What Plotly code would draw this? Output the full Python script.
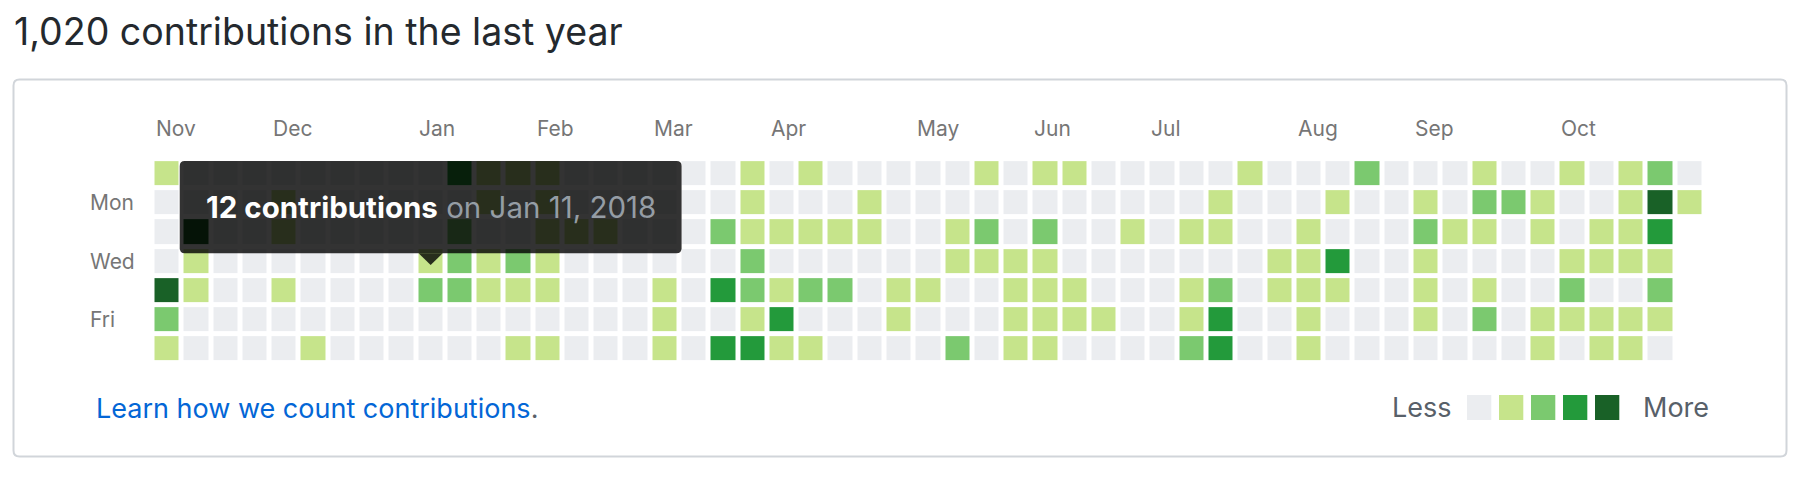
"""GitHub style contribution calendar rebuilt with a plotly heatmap."""

import plotly.graph_objects as go

# the page body keeps its default 8px margin, so the figure is a bit
# smaller than the window and every pixel position is shifted by it
PAGE_MARGIN = 8
W, H = 1800 - PAGE_MARGIN, 478 - PAGE_MARGIN

# contribution level per week (0 = none ... 4 = most), one list per weekday
sun = [1, 0, 0, 0, 0, 0, 0, 0, 0, 0, 3, 1, 1, 1, 0, 0, 0, 0, 0, 0,
       1, 0, 1, 0, 0, 0, 0, 0, 1, 0, 1, 1, 0, 0, 0, 0, 0, 1, 0, 0,
       0, 2, 0, 0, 0, 1, 0, 0, 1, 0, 1, 2, 0]
mon = [0, 0, 0, 0, 1, 0, 0, 0, 0, 0, 0, 1, 0, 1, 0, 0, 0, 0, 0, 0,
       1, 0, 0, 0, 1, 0, 0, 0, 0, 0, 0, 0, 0, 0, 0, 0, 1, 0, 0, 0,
       1, 0, 0, 1, 0, 2, 2, 1, 0, 0, 1, 4, 1]
tue = [0, 4, 0, 0, 1, 0, 0, 0, 0, 0, 2, 0, 0, 1, 1, 1, 0, 0, 0, 2,
       1, 1, 1, 1, 1, 0, 0, 1, 2, 0, 2, 0, 0, 1, 0, 1, 1, 0, 0, 1,
       0, 0, 0, 2, 1, 1, 0, 1, 0, 1, 1, 3, None]
wed = [0, 1, 0, 0, 0, 0, 0, 0, 0, 1, 2, 1, 2, 1, 0, 0, 0, 0, 0, 0,
       2, 0, 0, 0, 0, 0, 0, 1, 1, 1, 1, 0, 0, 0, 0, 0, 0, 0, 1, 1,
       3, 0, 0, 1, 0, 0, 0, 0, 1, 1, 1, 1, None]
thu = [4, 1, 0, 0, 1, 0, 0, 0, 0, 2, 2, 1, 1, 1, 0, 0, 0, 1, 0, 3,
       2, 1, 2, 2, 0, 1, 1, 0, 0, 1, 1, 1, 0, 0, 0, 1, 2, 0, 1, 1,
       1, 0, 0, 1, 0, 1, 0, 0, 2, 0, 0, 2, None]
fri = [2, 0, 0, 0, 0, 0, 0, 0, 0, 0, 0, 0, 0, 0, 0, 0, 0, 1, 0, 0,
       1, 3, 0, 0, 0, 1, 0, 0, 0, 1, 1, 1, 1, 0, 0, 1, 3, 0, 0, 1,
       0, 0, 0, 1, 0, 2, 0, 1, 1, 1, 1, 1, None]
sat = [1, 0, 0, 0, 0, 1, 0, 0, 0, 0, 0, 0, 1, 1, 0, 0, 0, 1, 0, 3,
       3, 1, 1, 0, 0, 0, 0, 2, 0, 1, 1, 0, 0, 0, 0, 2, 3, 0, 0, 1,
       0, 0, 0, 0, 0, 0, 0, 1, 0, 1, 1, 0, None]

months = ["Nov", "Dec", "Jan", "Feb", "Mar", "Apr", "May",
          "Jun", "Jul", "Aug", "Sep", "Oct"]
month_weeks = [0, 4, 9, 13, 17, 21, 26, 30, 34, 39, 43, 48]
day_labels = ["Mon", "Wed", "Fri"]
day_rows = [1, 3, 5]
levels = [0, 1, 2, 3, 4]

total = "1,020"
hover_week, hover_day = 9, 3
hover_text = "12 contributions"
hover_date = "Jan 11, 2018"

palette = ["#ebedf0", "#c6e48b", "#7bc96f", "#239a3b", "#196127"]
colorscale = []
for i, c in enumerate(palette):
    colorscale += [[i / 5, c], [(i + 1) / 5, c]]

FONT = "Inter, Noto Sans, sans-serif"


def px(x):
    # window pixel -> paper x
    return (x - PAGE_MARGIN) / W


def py(y):
    # window pixel -> paper y
    return 1 - (y - PAGE_MARGIN) / H


def rounded_path(x0, y0, x1, y1, rx, ry):
    return (f"M{x0 + rx},{y0} L{x1 - rx},{y0} Q{x1},{y0} {x1},{y0 + ry} "
            f"L{x1},{y1 - ry} Q{x1},{y1} {x1 - rx},{y1} L{x0 + rx},{y1} "
            f"Q{x0},{y1} {x0},{y1 - ry} L{x0},{y0 + ry} Q{x0},{y0} {x0 + rx},{y0} Z")


fig = go.Figure()

fig.add_trace(go.Heatmap(
    z=[sun, mon, tue, wed, thu, fri, sat],
    x=list(range(len(sun))),
    y=list(range(7)),
    zmin=-0.5, zmax=4.5,
    colorscale=colorscale,
    showscale=False,
    xgap=5, ygap=5,
    hoverinfo="skip",
))

# legend squares, drawn as a tiny heatmap on their own axes
fig.add_trace(go.Heatmap(
    z=[levels],
    x=levels,
    zmin=-0.5, zmax=4.5,
    colorscale=colorscale,
    showscale=False,
    xgap=7.7,
    hoverinfo="skip",
    xaxis="x2", yaxis="y2",
))

axis_off = dict(showgrid=False, zeroline=False, showticklabels=False,
                ticks="", fixedrange=True)

fig.update_layout(
    width=W, height=H,
    margin=dict(l=0, r=0, t=0, b=0),
    paper_bgcolor="white",
    plot_bgcolor="white",
    font=dict(family=FONT),
    xaxis=dict(domain=[px(152.5), px(1704.3)], range=[-0.5, 52.5], **axis_off),
    yaxis=dict(domain=[py(363.3), py(159.1)], range=[6.5, -0.5], **axis_off),
    xaxis2=dict(domain=[px(1464), px(1624)], range=[-0.5, 4.5], anchor="y2", **axis_off),
    yaxis2=dict(domain=[py(420), py(395)], range=[-0.5, 0.5], anchor="x2", **axis_off),
)

# outer box
fig.add_shape(type="path", xref="paper", yref="paper",
              path=rounded_path(px(13.5), py(79.5), px(1786.5), py(456.5),
                                6 / W, -6 / H),
              line=dict(color="#d1d5da", width=2), fillcolor="rgba(0,0,0,0)",
              layer="below")

# heading
fig.add_annotation(text=f"{total} contributions in the last year",
                   xref="paper", yref="paper", x=px(12), y=py(31),
                   xanchor="left", yanchor="middle", showarrow=False,
                   font=dict(size=37.5, color="#24292e"))

# month labels above the grid
for name, wk in zip(months, month_weeks):
    fig.add_annotation(text=name, xref="x", yref="paper", x=wk - 0.45, y=py(128.7),
                       xanchor="left", yanchor="middle", showarrow=False,
                       font=dict(size=21, color="#767676"))

# weekday labels
for name, row in zip(day_labels, day_rows):
    fig.add_annotation(text=name, xref="paper", yref="y", x=px(88), y=row,
                       xanchor="left", yanchor="middle", showarrow=False,
                       font=dict(size=21, color="#767676"))

# footer
fig.add_annotation(text="<span style='color:#0366d6'>Learn how we count contributions</span>.",
                   xref="paper", yref="paper", x=px(94), y=py(408),
                   xanchor="left", yanchor="middle", showarrow=False,
                   font=dict(size=27, color="#586069"))
fig.add_annotation(text="Less", xref="paper", yref="paper", x=px(1390), y=py(407),
                   xanchor="left", yanchor="middle", showarrow=False,
                   font=dict(size=27, color="#586069"))
fig.add_annotation(text="More", xref="paper", yref="paper", x=px(1641), y=py(407),
                   xanchor="left", yanchor="middle", showarrow=False,
                   font=dict(size=27, color="#586069"))

# hover tooltip over the hovered cell
tip_half_w = 8.57
tip_top, tip_bottom = hover_day - 3.435, hover_day - 0.27
fig.add_shape(type="path", xref="x", yref="y",
              path=rounded_path(hover_week - tip_half_w, tip_top,
                                hover_week + tip_half_w, tip_bottom, 0.17, 0.17),
              line=dict(width=0), fillcolor="rgba(0,0,0,0.8)", layer="above")
fig.add_shape(type="path", xref="x", yref="y",
              path=(f"M{hover_week - 0.41},{tip_bottom} L{hover_week},{hover_day + 0.13} "
                    f"L{hover_week + 0.41},{tip_bottom} Z"),
              line=dict(width=0), fillcolor="rgba(0,0,0,0.8)", layer="above")
fig.add_annotation(text=f"<b>{hover_text}</b><span style='color:#959da5'> on {hover_date}</span>",
                   xref="x", yref="y", x=hover_week, y=(tip_top + tip_bottom) / 2,
                   xanchor="center", yanchor="middle", showarrow=False,
                   font=dict(size=29.5, color="#ffffff"))

fig.write_html("out.html")
